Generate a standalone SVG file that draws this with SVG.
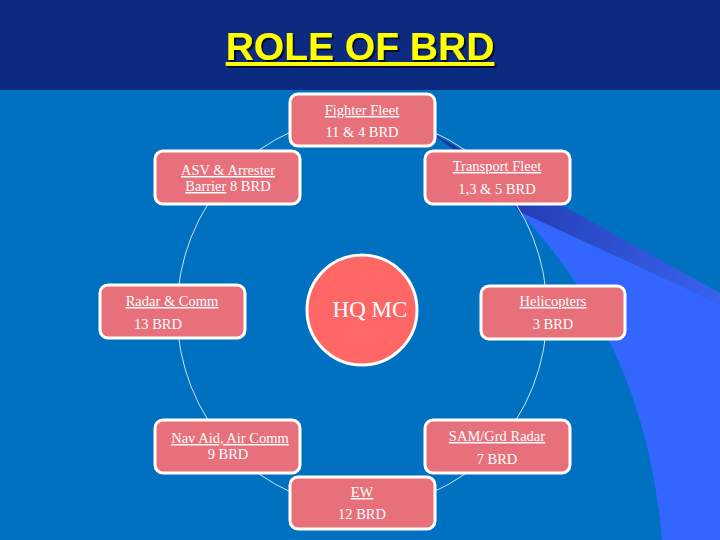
<svg xmlns="http://www.w3.org/2000/svg" width="720" height="540" viewBox="0 0 720 540">
<defs>
<linearGradient id="sw" x1="0" y1="0" x2="1" y2="0"><stop offset="0" stop-color="#1a2f9a"/><stop offset="1" stop-color="#3a62f0"/></linearGradient>
<filter id="sh" x="-10%" y="-10%" width="130%" height="140%"><feDropShadow dx="2" dy="2" stdDeviation="0.5" flood-color="#000" flood-opacity="0.7"/></filter>
<style>
.n rect{fill:#e8707a;stroke:#fff;stroke-width:3}
.n text{font-family:"Liberation Serif",serif;font-size:14.5px;fill:#fff;text-anchor:middle}
.u{text-decoration:underline}
</style>
</defs>
<rect width="720" height="540" fill="#0070c0"/>
<rect width="720" height="90" fill="#0c2a80"/>
<path d="M430,132 L720,293 L720,304 L520,212 C500,190 470,160 430,132 Z" fill="url(#sw)"/>
<path d="M520,212 L720,304 L720,540 L662,540 C650,400 600,300 520,212 Z" fill="#3366ff"/>
<text x="360" y="60" font-family="Liberation Sans,sans-serif" font-weight="bold" font-size="39" fill="#ffff00" text-anchor="middle" class="u" filter="url(#sh)">ROLE OF BRD</text>
<g id="connectors"><ellipse cx="362" cy="312" rx="185" ry="195" fill="none" stroke="#fff" stroke-width="0.8"/></g>
<g id="hq"><circle cx="362" cy="310" r="55" fill="#ff6666" stroke="#fff" stroke-width="3"/><text x="370" y="317" font-family="Liberation Serif,serif" font-size="23" fill="#fff" text-anchor="middle">HQ MC</text></g>
<g id="fighter" class="n"><rect x="290" y="94" width="145" height="52" rx="8"/><text x="362" y="115" class="u">Fighter Fleet </text><text x="362" y="137">11 &amp; 4 BRD</text></g>
<g id="asv" class="n"><rect x="155" y="151" width="145" height="53" rx="8"/><text x="228" y="175" class="u">ASV &amp; Arrester</text><text x="228" y="191"><tspan class="u">Barrier</tspan> 8 BRD</text></g>
<g id="transport" class="n"><rect x="425" y="151" width="145" height="53" rx="8"/><text x="497" y="171" class="u">Transport Fleet</text><text x="497" y="194">1,3 &amp; 5 BRD</text></g>
<g id="radar" class="n"><rect x="100" y="285" width="145" height="53" rx="8"/><text x="172" y="306" class="u">Radar &amp; Comm</text><text x="158" y="329">13 BRD</text></g>
<g id="heli" class="n"><rect x="481" y="286" width="144" height="53" rx="8"/><text x="553" y="306" class="u">Helicopters</text><text x="553" y="329">3 BRD</text></g>
<g id="navaid" class="n"><rect x="155" y="420" width="145" height="53" rx="8"/><text x="230" y="443" class="u">Nav Aid, Air Comm </text><text x="228" y="459">9 BRD</text></g>
<g id="sam" class="n"><rect x="425" y="420" width="145" height="53" rx="8"/><text x="497" y="441" class="u">SAM/Grd Radar</text><text x="497" y="464">7 BRD</text></g>
<g id="ew" class="n"><rect x="290" y="477" width="145" height="52" rx="8"/><text x="362" y="497" class="u">EW</text><text x="362" y="519">12 BRD</text></g>
</svg>
